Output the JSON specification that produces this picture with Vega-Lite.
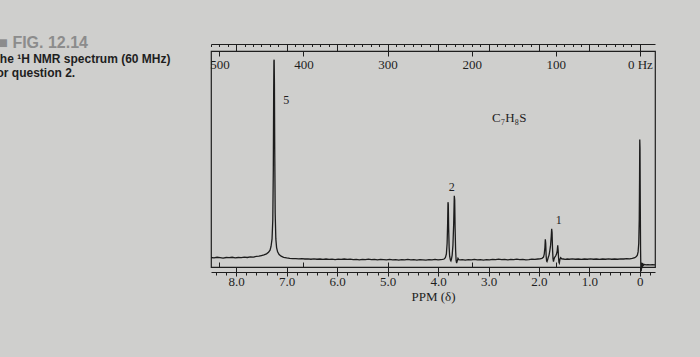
{
  "$schema": "https://vega.github.io/schema/vega-lite/v6.json",
  "width": 444,
  "height": 216,
  "autosize": {"type": "none"},
  "padding": {"left": 211, "top": 51, "right": 45, "bottom": 90},
  "background": "#cfcfcd",
  "config": {
    "view": {"stroke": "#1e1e1e", "strokeWidth": 1.2},
    "axis": {"grid": false, "domainColor": "#1e1e1e", "tickColor": "#1e1e1e", "labelColor": "#1e1e1e", "titleColor": "#1e1e1e"}
  },
  "title": {
    "text": "\u200b\u00a0\u200a■ FIG. 12.14",
    "subtitle": ["The ¹H NMR spectrum (60 MHz)", "for question 2."],
    "orient": "top",
    "anchor": "start",
    "frame": "group",
    "offset": -35,
    "dx": -218.5,
    "font": "Liberation Sans",
    "fontSize": 16,
    "fontWeight": "bold",
    "color": "#8c8c8c",
    "subtitleFont": "Liberation Sans",
    "subtitleFontSize": 12,
    "subtitleFontWeight": "bold",
    "subtitleColor": "#1e1e1e",
    "subtitleLineHeight": 14,
    "subtitlePadding": 3
  },
  "resolve": {"axis": {"x": "independent"}},
  "layer": [
    {
      "data": {"values": [
        {"ppm": 8.50, "signal": 4.4}, {"ppm": 8.44, "signal": 4.2}, {"ppm": 8.38, "signal": 4.5}, {"ppm": 8.32, "signal": 4.3},
        {"ppm": 8.26, "signal": 4.1}, {"ppm": 8.20, "signal": 4.4}, {"ppm": 8.14, "signal": 4.3}, {"ppm": 8.08, "signal": 4.5},
        {"ppm": 8.02, "signal": 4.2}, {"ppm": 7.96, "signal": 4.4}, {"ppm": 7.90, "signal": 4.3}, {"ppm": 7.84, "signal": 4.6},
        {"ppm": 7.78, "signal": 4.4}, {"ppm": 7.72, "signal": 4.7}, {"ppm": 7.66, "signal": 4.6}, {"ppm": 7.60, "signal": 4.9},
        {"ppm": 7.55, "signal": 5.0}, {"ppm": 7.50, "signal": 5.3}, {"ppm": 7.45, "signal": 5.6}, {"ppm": 7.40, "signal": 6.1},
        {"ppm": 7.36, "signal": 6.8}, {"ppm": 7.33, "signal": 7.8}, {"ppm": 7.31, "signal": 9.5}, {"ppm": 7.29, "signal": 13},
        {"ppm": 7.275, "signal": 22}, {"ppm": 7.265, "signal": 45}, {"ppm": 7.258, "signal": 80}, {"ppm": 7.253, "signal": 95.5},
        {"ppm": 7.248, "signal": 96}, {"ppm": 7.243, "signal": 85}, {"ppm": 7.237, "signal": 55}, {"ppm": 7.228, "signal": 25},
        {"ppm": 7.215, "signal": 13}, {"ppm": 7.20, "signal": 9}, {"ppm": 7.18, "signal": 7}, {"ppm": 7.15, "signal": 5.8},
        {"ppm": 7.11, "signal": 5.0}, {"ppm": 7.06, "signal": 4.5}, {"ppm": 7.00, "signal": 4.2}, {"ppm": 6.94, "signal": 4.0},
        {"ppm": 6.88, "signal": 3.9}, {"ppm": 6.82, "signal": 3.9}, {"ppm": 6.76, "signal": 3.8}, {"ppm": 6.70, "signal": 3.9},
        {"ppm": 6.64, "signal": 3.7}, {"ppm": 6.58, "signal": 3.8}, {"ppm": 6.52, "signal": 3.6}, {"ppm": 6.46, "signal": 3.8},
        {"ppm": 6.40, "signal": 3.6}, {"ppm": 6.34, "signal": 3.7}, {"ppm": 6.28, "signal": 3.5}, {"ppm": 6.22, "signal": 3.7},
        {"ppm": 6.16, "signal": 3.5}, {"ppm": 6.10, "signal": 3.6}, {"ppm": 6.04, "signal": 3.4}, {"ppm": 5.98, "signal": 3.6},
        {"ppm": 5.92, "signal": 3.5}, {"ppm": 5.86, "signal": 3.7}, {"ppm": 5.80, "signal": 3.5}, {"ppm": 5.74, "signal": 3.6},
        {"ppm": 5.68, "signal": 3.4}, {"ppm": 5.62, "signal": 3.5}, {"ppm": 5.56, "signal": 3.3}, {"ppm": 5.50, "signal": 3.5},
        {"ppm": 5.44, "signal": 3.4}, {"ppm": 5.38, "signal": 3.6}, {"ppm": 5.32, "signal": 3.4}, {"ppm": 5.26, "signal": 3.5},
        {"ppm": 5.20, "signal": 3.3}, {"ppm": 5.14, "signal": 3.5}, {"ppm": 5.08, "signal": 3.4}, {"ppm": 5.02, "signal": 3.3},
        {"ppm": 4.96, "signal": 3.5}, {"ppm": 4.90, "signal": 3.3}, {"ppm": 4.84, "signal": 3.4}, {"ppm": 4.78, "signal": 3.2},
        {"ppm": 4.72, "signal": 3.4}, {"ppm": 4.66, "signal": 3.3}, {"ppm": 4.60, "signal": 3.5}, {"ppm": 4.54, "signal": 3.3},
        {"ppm": 4.48, "signal": 3.4}, {"ppm": 4.42, "signal": 3.2}, {"ppm": 4.36, "signal": 3.4}, {"ppm": 4.30, "signal": 3.3},
        {"ppm": 4.24, "signal": 3.2}, {"ppm": 4.18, "signal": 3.4}, {"ppm": 4.12, "signal": 3.3}, {"ppm": 4.06, "signal": 3.5},
        {"ppm": 4.00, "signal": 3.3}, {"ppm": 3.95, "signal": 3.4}, {"ppm": 3.91, "signal": 3.5}, {"ppm": 3.88, "signal": 3.7},
        {"ppm": 3.855, "signal": 4.3}, {"ppm": 3.835, "signal": 6}, {"ppm": 3.82, "signal": 11}, {"ppm": 3.81, "signal": 20},
        {"ppm": 3.803, "signal": 30}, {"ppm": 3.797, "signal": 29}, {"ppm": 3.79, "signal": 18}, {"ppm": 3.78, "signal": 9},
        {"ppm": 3.77, "signal": 5}, {"ppm": 3.755, "signal": 3.2}, {"ppm": 3.745, "signal": 2.8}, {"ppm": 3.735, "signal": 3.5},
        {"ppm": 3.72, "signal": 5.5}, {"ppm": 3.705, "signal": 10}, {"ppm": 3.69, "signal": 20}, {"ppm": 3.678, "signal": 33},
        {"ppm": 3.67, "signal": 31}, {"ppm": 3.662, "signal": 18}, {"ppm": 3.652, "signal": 8}, {"ppm": 3.642, "signal": 3},
        {"ppm": 3.632, "signal": 1.8}, {"ppm": 3.62, "signal": 2.8}, {"ppm": 3.605, "signal": 4.0}, {"ppm": 3.59, "signal": 3.4},
        {"ppm": 3.56, "signal": 3.3}, {"ppm": 3.52, "signal": 3.4}, {"ppm": 3.46, "signal": 3.2}, {"ppm": 3.40, "signal": 3.4},
        {"ppm": 3.34, "signal": 3.3}, {"ppm": 3.28, "signal": 3.5}, {"ppm": 3.22, "signal": 3.3}, {"ppm": 3.16, "signal": 3.4},
        {"ppm": 3.10, "signal": 3.2}, {"ppm": 3.04, "signal": 3.4}, {"ppm": 2.98, "signal": 3.3}, {"ppm": 2.92, "signal": 3.5},
        {"ppm": 2.86, "signal": 3.4}, {"ppm": 2.80, "signal": 3.6}, {"ppm": 2.74, "signal": 3.4}, {"ppm": 2.68, "signal": 3.5},
        {"ppm": 2.62, "signal": 3.3}, {"ppm": 2.56, "signal": 3.5}, {"ppm": 2.50, "signal": 3.4}, {"ppm": 2.44, "signal": 3.6},
        {"ppm": 2.38, "signal": 3.4}, {"ppm": 2.32, "signal": 3.5}, {"ppm": 2.26, "signal": 3.3}, {"ppm": 2.20, "signal": 3.4},
        {"ppm": 2.14, "signal": 3.6}, {"ppm": 2.08, "signal": 3.5}, {"ppm": 2.02, "signal": 3.7}, {"ppm": 1.98, "signal": 3.8},
        {"ppm": 1.94, "signal": 4.0}, {"ppm": 1.91, "signal": 4.6}, {"ppm": 1.895, "signal": 6}, {"ppm": 1.882, "signal": 9},
        {"ppm": 1.874, "signal": 12.8}, {"ppm": 1.866, "signal": 11}, {"ppm": 1.857, "signal": 5}, {"ppm": 1.848, "signal": 2.8},
        {"ppm": 1.84, "signal": 2.5}, {"ppm": 1.83, "signal": 3.2}, {"ppm": 1.815, "signal": 4.5}, {"ppm": 1.80, "signal": 5.5},
        {"ppm": 1.785, "signal": 7.5}, {"ppm": 1.77, "signal": 10}, {"ppm": 1.757, "signal": 14}, {"ppm": 1.748, "signal": 17.7},
        {"ppm": 1.74, "signal": 16}, {"ppm": 1.732, "signal": 9}, {"ppm": 1.722, "signal": 4}, {"ppm": 1.712, "signal": 2.5},
        {"ppm": 1.702, "signal": 3.6}, {"ppm": 1.69, "signal": 4.5}, {"ppm": 1.678, "signal": 4.8}, {"ppm": 1.665, "signal": 5.3},
        {"ppm": 1.652, "signal": 6}, {"ppm": 1.638, "signal": 7.5}, {"ppm": 1.628, "signal": 10}, {"ppm": 1.62, "signal": 8},
        {"ppm": 1.612, "signal": 4.5}, {"ppm": 1.604, "signal": 2.2}, {"ppm": 1.596, "signal": 1.8}, {"ppm": 1.585, "signal": 3.5},
        {"ppm": 1.57, "signal": 4.3}, {"ppm": 1.55, "signal": 3.8}, {"ppm": 1.52, "signal": 3.7}, {"ppm": 1.48, "signal": 3.5},
        {"ppm": 1.44, "signal": 3.7}, {"ppm": 1.40, "signal": 3.6}, {"ppm": 1.34, "signal": 3.8}, {"ppm": 1.28, "signal": 3.6},
        {"ppm": 1.22, "signal": 3.7}, {"ppm": 1.16, "signal": 3.5}, {"ppm": 1.10, "signal": 3.7}, {"ppm": 1.04, "signal": 3.6},
        {"ppm": 0.98, "signal": 3.8}, {"ppm": 0.92, "signal": 3.6}, {"ppm": 0.86, "signal": 3.7}, {"ppm": 0.80, "signal": 3.5},
        {"ppm": 0.74, "signal": 3.7}, {"ppm": 0.68, "signal": 3.6}, {"ppm": 0.62, "signal": 3.8}, {"ppm": 0.56, "signal": 3.6},
        {"ppm": 0.50, "signal": 3.7}, {"ppm": 0.44, "signal": 3.6}, {"ppm": 0.38, "signal": 3.8}, {"ppm": 0.32, "signal": 3.7},
        {"ppm": 0.26, "signal": 3.9}, {"ppm": 0.20, "signal": 3.8}, {"ppm": 0.15, "signal": 4.0}, {"ppm": 0.10, "signal": 4.3},
        {"ppm": 0.07, "signal": 4.8}, {"ppm": 0.05, "signal": 5.5}, {"ppm": 0.035, "signal": 7}, {"ppm": 0.022, "signal": 11},
        {"ppm": 0.012, "signal": 22}, {"ppm": 0.006, "signal": 40}, {"ppm": 0.002, "signal": 59}, {"ppm": -0.003, "signal": 55},
        {"ppm": -0.008, "signal": 30}, {"ppm": -0.014, "signal": 8}, {"ppm": -0.02, "signal": -1.5}, {"ppm": -0.027, "signal": -2},
        {"ppm": -0.035, "signal": 2}, {"ppm": -0.045, "signal": -0.5}, {"ppm": -0.055, "signal": 1.8}, {"ppm": -0.07, "signal": 0.8},
        {"ppm": -0.09, "signal": 1.2}, {"ppm": -0.12, "signal": 1.0}, {"ppm": -0.16, "signal": 1.1}, {"ppm": -0.20, "signal": 1.0},
        {"ppm": -0.25, "signal": 1.1}, {"ppm": -0.30, "signal": 1.0}
      ]},
      "mark": {"type": "line", "color": "#1c1c1c", "strokeWidth": 1.3, "clip": false},
      "encoding": {
        "x": {
          "field": "ppm", "type": "quantitative",
          "scale": {"domain": [8.5, -0.3], "nice": false, "zero": false},
          "axis": {
            "orient": "bottom", "offset": 0, "domain": false,
            "values": [8.4, 8.2, 8, 7.8, 7.6, 7.4, 7.2, 7, 6.8, 6.6, 6.4, 6.2, 6, 5.8, 5.6, 5.4, 5.2, 5, 4.8, 4.6, 4.4, 4.2, 4, 3.8, 3.6, 3.4, 3.2, 3, 2.8, 2.6, 2.4, 2.2, 2, 1.8, 1.6, 1.4, 1.2, 1, 0.8, 0.6, 0.4, 0.2, 0, -0.2],
            "tickSize": 9, "tickWidth": 1,
            "tickDash": {"condition": {"test": "abs(datum.value - round(datum.value)) < 0.001", "value": [20, 0]}, "value": [0, 5, 3, 20]},
            "labelExpr": "abs(datum.value - round(datum.value)) < 0.001 ? (abs(datum.value) < 0.001 ? '0' : format(datum.value, '.1f')) : ''",
            "labelFont": "Liberation Serif", "labelFontSize": 13, "labelPadding": -1,
            "labelFlush": false, "labelOverlap": false, "labelBound": false,
            "title": "PPM (δ)", "titleFont": "Liberation Serif", "titleFontSize": 13, "titleFontWeight": "normal", "titlePadding": 2
          }
        },
        "y": {"field": "signal", "type": "quantitative", "scale": {"domain": [0, 100], "nice": false, "zero": false}, "axis": null}
      }
    },
    {
      "data": {"values": [{}]},
      "mark": {"type": "text", "text": "5", "font": "Liberation Serif", "fontSize": 12, "baseline": "alphabetic", "align": "center", "color": "#1e1e1e"},
      "encoding": {
        "x": {"datum": 7.01, "type": "quantitative", "scale": {"domain": [8.5, -0.3], "nice": false, "zero": false},
          "axis": {"orient": "bottom", "offset": 5, "domain": true, "domainWidth": 1, "ticks": false, "labels": false, "title": null, "values": [0]}},
        "y": {"datum": 75.5, "type": "quantitative", "scale": {"domain": [0, 100], "nice": false, "zero": false}}
      }
    },
    {
      "data": {"values": [{}]},
      "mark": {"type": "text", "text": "2", "font": "Liberation Serif", "fontSize": 12, "baseline": "alphabetic", "align": "center", "color": "#1e1e1e"},
      "encoding": {
        "x": {"datum": 3.73, "type": "quantitative", "scale": {"domain": [8.5, -0.3], "nice": false, "zero": false},
          "axis": {"orient": "bottom", "offset": -5, "domain": false, "tickSize": 5, "tickWidth": 1, "labels": false, "title": null,
            "values": [8.333333, 6.666667, 5, 3.333333, 1.666667]}},
        "y": {"datum": 35, "type": "quantitative", "scale": {"domain": [0, 100], "nice": false, "zero": false}}
      }
    },
    {
      "data": {"values": [{}]},
      "mark": {"type": "text", "text": "1", "font": "Liberation Serif", "fontSize": 12, "baseline": "alphabetic", "align": "center", "color": "#1e1e1e"},
      "encoding": {
        "x": {"datum": 1.61, "type": "quantitative", "scale": {"domain": [8.5, -0.3], "nice": false, "zero": false},
          "axis": {"orient": "top", "offset": 7, "domain": true, "domainWidth": 1, "tickSize": -7, "tickWidth": 1,
            "tickDash": {"condition": {"test": "abs(datum.value - round(datum.value)) < 0.001", "value": [20, 0]}, "value": [2.5, 20]},
            "labels": false, "title": null,
            "values": [0, 0.16667, 0.33333, 0.5, 0.66667, 0.83333, 1, 1.16667, 1.33333, 1.5, 1.66667, 1.83333, 2, 2.16667, 2.33333, 2.5, 2.66667, 2.83333, 3, 3.16667, 3.33333, 3.5, 3.66667, 3.83333, 4, 4.16667, 4.33333, 4.5, 4.66667, 4.83333, 5, 5.16667, 5.33333, 5.5, 5.66667, 5.83333, 6, 6.16667, 6.33333, 6.5, 6.66667, 6.83333, 7, 7.16667, 7.33333, 7.5, 7.66667, 7.83333, 8, 8.16667, 8.33333, 8.5]}},
        "y": {"datum": 20.1, "type": "quantitative", "scale": {"domain": [0, 100], "nice": false, "zero": false}}
      }
    },
    {
      "data": {"values": [{}]},
      "mark": {"type": "text", "text": "C₇H₈S", "font": "Liberation Serif", "fontSize": 13, "baseline": "alphabetic", "align": "center", "color": "#1e1e1e"},
      "encoding": {
        "x": {"datum": 2.59, "type": "quantitative", "scale": {"domain": [8.5, -0.3], "nice": false, "zero": false},
          "axis": {"orient": "top", "offset": -5, "domain": false, "tickSize": 5, "tickWidth": 1,
            "values": [8.333333, 6.666667, 5, 3.333333, 1.666667, 0],
            "labelExpr": "abs(datum.value) < 0.001 ? '0 Hz' : format(round(datum.value * 60), 'd')",
            "labelFont": "Liberation Serif", "labelFontSize": 13, "labelBaseline": "alphabetic", "labelPadding": -17,
            "labelFlush": false, "labelOverlap": false, "labelBound": false, "title": null}},
        "y": {"datum": 67, "type": "quantitative", "scale": {"domain": [0, 100], "nice": false, "zero": false}}
      }
    }
  ]
}
